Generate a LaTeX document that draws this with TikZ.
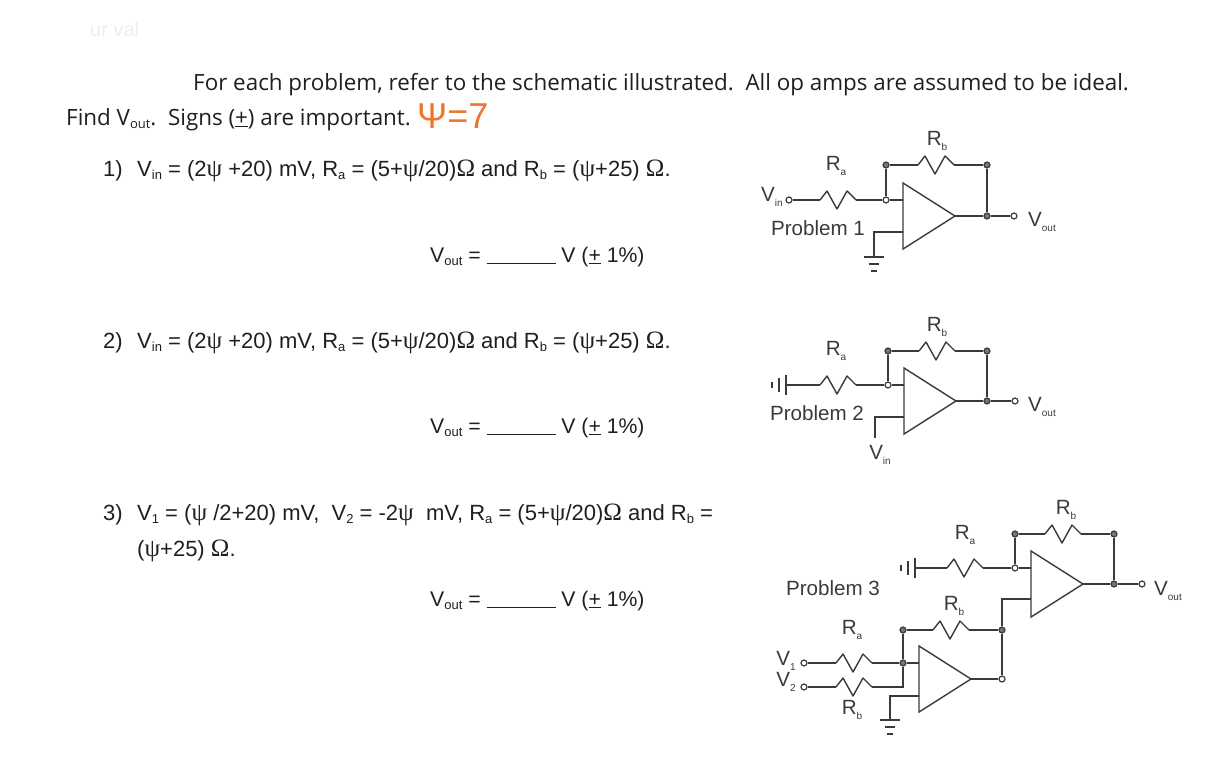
\documentclass[tikz,border=0pt]{standalone}
\usepackage{fontspec}
\setmainfont{Liberation Sans}
\newfontfamily\headfont{Open Sans}
\newfontfamily\symfont{Liberation Serif}
\usetikzlibrary{shapes.geometric}
\definecolor{inkdark}{HTML}{1F1F1F}
\definecolor{inkwire}{HTML}{3A3A3A}
\definecolor{inkpen}{HTML}{F0752A}
\newcommand{\psy}{{\symfont\fontsize{25}{24}\selectfont ψ}}
\newcommand{\ohm}{{\symfont\fontsize{25}{24}\selectfont Ω}}
\newcommand{\lowtxt}[1]{\raisebox{-.3ex}{\fontsize{13}{13}\selectfont #1}}
\newcommand{\lowpart}[1]{\raisebox{-.45ex}{\fontsize{10}{10}\selectfont #1}}
\newcommand{\pluss}{\underline{+}}
\newcommand{\blank}{\underline{\hspace{69pt}}}
\tikzset{
  headtxt/.style={anchor=base west,inner sep=0,text=inkdark,font=\headfont\fontsize{22.4}{24}\selectfont},
  linetxt/.style={anchor=base west,inner sep=0,text=inkdark,font=\fontsize{22}{24}\selectfont},
  anstxt/.style={anchor=base west,inner sep=0,text=inkdark,font=\fontsize{21.2}{24}\selectfont},
  parttxt/.style={inner sep=0,text=inkwire,font=\fontsize{20.6}{24}\selectfont},
  wire/.style={draw=inkwire,line width=1.4pt},
  opamp/.style={draw=inkwire,line width=1.4pt,shape=isosceles triangle,isosceles triangle stretches,
    minimum width=66pt,minimum height=52pt,inner sep=0,outer sep=0,anchor=lower side},
  opendot/.style={circle,draw=inkwire,fill=white,line width=1.2pt,minimum size=6pt,inner sep=0},
  fulldot/.style={circle,draw=inkwire,fill=inkwire!70,line width=1.2pt,minimum size=6pt,inner sep=0},
  resbox/.style={minimum width=36pt,minimum height=0pt,inner sep=0,outer sep=0,
    append after command={(\tikzlastnode.west) edge[wire,line join=round,to path={-- ++(7,-9) -- ++(10,18) -- ++(10,-18) -- (\tikztotarget)}] (\tikzlastnode.east)}},
}
\newcommand{\gnddown}[1]{\draw[wire](#1)+(-10,0)--+(10,0);\draw[wire](#1)+(-5,7)--+(5,7);\draw[wire](#1)+(-3,14)--+(3,14);}
\newcommand{\gndside}[1]{\draw[wire](#1)+(0,-10)--+(0,10);\draw[wire](#1)+(-7,-7)--+(-7,7);\draw[wire](#1)+(-14,-3)--+(-14,3);}
\begin{document}
\begin{tikzpicture}[x=1pt,y=-1pt]
    \useasboundingbox(0,0)rectangle(1220,768);
    % text on the left
    \node(gone)at(90,37)[anchor=base west,inner sep=0,text=black!7,font=\fontsize{20}{20}\selectfont]{ur val};
    \node(intro)at(193,90)[headtxt]{For each problem, refer to the schematic illustrated.\ \ All op amps are assumed to be ideal.};
    \node(find)at(66,125)[headtxt]{Find V\lowtxt{out}.\ \ Signs (\pluss) are important.};
    \node(psival)at(417,128)[anchor=base west,inner sep=0,text=inkpen,font=\fontsize{36}{36}\selectfont]{Ψ=7};
    \node(item1)at(103,176)[linetxt]{\makebox[34pt][l]{1)}V\lowtxt{in} = (2\psy{} +20) mV, R\lowtxt{a} = (5+\psy/20)\ohm{} and R\lowtxt{b} = (\psy+25) \ohm.};
    \node(ans1)at(430,262)[anstxt]{V\lowtxt{out} = \blank{} V (\pluss{} 1\%)};
    \node(item2)at(103,348)[linetxt]{\makebox[34pt][l]{2)}V\lowtxt{in} = (2\psy{} +20) mV, R\lowtxt{a} = (5+\psy/20)\ohm{} and R\lowtxt{b} = (\psy+25) \ohm.};
    \node(ans2)at(430,433)[anstxt]{V\lowtxt{out} = \blank{} V (\pluss{} 1\%)};
    \node(item3)at(103,520)[linetxt]{\makebox[34pt][l]{3)}V\lowtxt{1} = (\psy{} /2+20) mV,\ \ V\lowtxt{2} = -2\psy{}\ \ mV, R\lowtxt{a} = (5+\psy/20)\ohm{} and R\lowtxt{b} =};
    \node(item3b)at(137,556)[linetxt]{(\psy+25) \ohm.};
    \node(ans3)at(430,606)[anstxt]{V\lowtxt{out} = \blank{} V (\pluss{} 1\%)};
    % problem 1
    \node(amp1)at(903,216)[opamp]{};
    \node(in1)at(789,200)[opendot]{};
    \node(ra1)at(838,200)[resbox]{};
    \node(ja1)at(886,200)[opendot]{};
    \node(jb1)at(886,165)[fulldot]{};
    \node(rb1)at(936,165)[resbox]{};
    \node(jc1)at(987,165)[fulldot]{};
    \node(jd1)at(987,216)[fulldot]{};
    \node(out1)at(1014,216)[opendot]{};
    \coordinate(amp1p)at(903,200);
    \coordinate(amp1m)at(903,232);
    \coordinate(gnd1)at(874,257);
    \node(lra1)at(836,166)[parttxt]{R\lowpart{a}};
    \node(lrb1)at(937,141)[parttxt]{R\lowpart{b}};
    \node(lin1)at(772,197)[parttxt]{V\lowpart{in}};
    \node(lout1)at(1042,222)[parttxt]{V\lowpart{out}};
    \node(name1)at(818,228)[parttxt]{Problem 1};
    \draw[wire](in1)--(ra1);
    \draw[wire](ra1)--(ja1);
    \draw[wire](ja1)--(amp1p);
    \draw[wire](ja1)--(jb1);
    \draw[wire](jb1)--(rb1);
    \draw[wire](rb1)--(jc1);
    \draw[wire](jc1)--(jd1);
    \draw[wire](amp1.apex)--(jd1);
    \draw[wire](jd1)--(out1);
    \draw[wire](amp1m)-|(gnd1);
    \gnddown{gnd1}
    % problem 2
    \node(amp2)at(904,401)[opamp]{};
    \coordinate(gnd2)at(786,385);
    \node(ra2)at(838,385)[resbox]{};
    \node(ja2)at(888,385)[opendot]{};
    \node(jb2)at(888,351)[fulldot]{};
    \node(rb2)at(937,351)[resbox]{};
    \node(jc2)at(987,351)[fulldot]{};
    \node(jd2)at(987,401)[fulldot]{};
    \node(out2)at(1015,401)[opendot]{};
    \coordinate(amp2p)at(904,385);
    \coordinate(amp2m)at(904,417);
    \coordinate(in2)at(875,438);
    \node(lra2)at(836,351)[parttxt]{R\lowpart{a}};
    \node(lrb2)at(937,327)[parttxt]{R\lowpart{b}};
    \node(lin2)at(880,455)[parttxt]{V\lowpart{in}};
    \node(lout2)at(1042,407)[parttxt]{V\lowpart{out}};
    \node(name2)at(817,413)[parttxt]{Problem 2};
    \draw[wire](gnd2)--(ra2);
    \draw[wire](ra2)--(ja2);
    \draw[wire](ja2)--(amp2p);
    \draw[wire](ja2)--(jb2);
    \draw[wire](jb2)--(rb2);
    \draw[wire](rb2)--(jc2);
    \draw[wire](jc2)--(jd2);
    \draw[wire](amp2.apex)--(jd2);
    \draw[wire](jd2)--(out2);
    \draw[wire](amp2m)-|(in2);
    \gndside{gnd2}
    % problem 3
    \node(amp3)at(1031,584)[opamp]{};
    \coordinate(gnd3)at(915,568);
    \node(ra3)at(965,568)[resbox]{};
    \node(ja3)at(1015,568)[opendot]{};
    \node(jb3)at(1015,534)[fulldot]{};
    \node(rb3)at(1063,534)[resbox]{};
    \node(jc3)at(1114,534)[fulldot]{};
    \node(jd3)at(1114,584)[fulldot]{};
    \node(out3)at(1142,584)[opendot]{};
    \coordinate(amp3p)at(1031,568);
    \coordinate(amp3m)at(1031,599);
    \node(amp4)at(919,679)[opamp]{};
    \node(in4)at(804,663)[opendot]{};
    \node(in5)at(804,687)[opendot]{};
    \node(ra4)at(854,663)[resbox]{};
    \node(rb5)at(854,687)[resbox]{};
    \node(ja4)at(903,663)[fulldot]{};
    \coordinate(jv5)at(903,687);
    \node(jb4)at(903,630)[fulldot]{};
    \node(rb4)at(951,630)[resbox]{};
    \node(jc4)at(1002,630)[fulldot]{};
    \node(jd4)at(1002,679)[opendot]{};
    \coordinate(amp4p)at(919,663);
    \coordinate(amp4m)at(919,696);
    \coordinate(gnd4)at(890,720);
    \node(lra3)at(965,535)[parttxt]{R\lowpart{a}};
    \node(lrb3)at(1066,510)[parttxt]{R\lowpart{b}};
    \node(lra4)at(852,630)[parttxt]{R\lowpart{a}};
    \node(lrb4)at(954,606)[parttxt]{R\lowpart{b}};
    \node(lrb5)at(852,710)[parttxt]{R\lowpart{b}};
    \node(lv1)at(786,661)[parttxt]{V\lowpart{1}};
    \node(lv2)at(786,682)[parttxt]{V\lowpart{2}};
    \node(lout3)at(1168,591)[parttxt]{V\lowpart{out}};
    \node(name3)at(833,588)[parttxt]{Problem 3};
    \draw[wire](gnd3)--(ra3);
    \draw[wire](ra3)--(ja3);
    \draw[wire](ja3)--(amp3p);
    \draw[wire](ja3)--(jb3);
    \draw[wire](jb3)--(rb3);
    \draw[wire](rb3)--(jc3);
    \draw[wire](jc3)--(jd3);
    \draw[wire](amp3.apex)--(jd3);
    \draw[wire](jd3)--(out3);
    \draw[wire](amp3m)-|(jc4);
    \draw[wire](in4)--(ra4);
    \draw[wire](ra4)--(ja4);
    \draw[wire](in5)--(rb5);
    \draw[wire](rb5)--(jv5)--(ja4);
    \draw[wire](ja4)--(amp4p);
    \draw[wire](ja4)--(jb4);
    \draw[wire](jb4)--(rb4);
    \draw[wire](rb4)--(jc4);
    \draw[wire](jc4)--(jd4);
    \draw[wire](amp4.apex)--(jd4);
    \draw[wire](amp4m)-|(gnd4);
    \gndside{gnd3}
    \gnddown{gnd4}
\end{tikzpicture}
\end{document}
